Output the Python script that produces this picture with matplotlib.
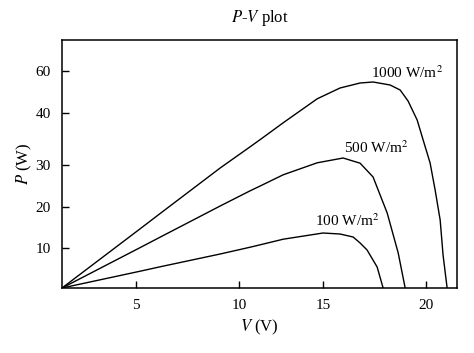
import matplotlib
matplotlib.use("Agg")
import matplotlib.pyplot as plt

plt.rcParams["font.family"] = ["Liberation Serif", "DejaVu Serif"]
plt.rcParams["mathtext.fontset"] = "stix"

# ---------- data (in plot units) ----------
v_1000 = [1.17, 5.21, 6.24, 9.35, 10.90, 11.42, 12.61, 14.37, 15.55, 16.59, 17.26, 18.14,
          18.66, 19.07, 19.54, 19.85, 20.21, 20.47, 20.73, 20.88, 21.09]
p_1000 = [0.0, 14.8, 18.6, 30.0, 35.3, 37.1, 41.3, 47.3, 50.0, 51.25, 51.5, 50.75,
          49.5, 46.75, 42.0, 37.0, 31.25, 24.5, 17.0, 8.25, 0.0]

v_500 = [1.17, 5.21, 6.24, 9.35, 10.90, 11.42, 12.61, 14.37, 15.71, 16.59, 17.26, 17.99, 18.56, 18.92]
p_500 = [0.0, 10.1, 12.7, 20.5, 24.3, 25.5, 28.3, 31.3, 32.5, 31.2, 27.75, 18.75, 8.75, 0.0]

v_100 = [1.17, 5.21, 6.24, 9.35, 10.90, 11.42, 12.61, 14.67, 15.55, 16.23, 16.59, 16.95, 17.47, 17.78]
p_100 = [0.0, 4.2, 5.3, 8.5, 10.2, 10.8, 12.2, 13.75, 13.5, 12.75, 11.25, 9.5, 5.25, 0.0]

labels = ["1000 W/m$^2$", "500 W/m$^2$", "100 W/m$^2$"]
label_pos = [(19.0, 53.8), (17.4, 35.0), (15.9, 16.8)]

x_tick_pos = [5.0, 10.33, 14.67, 20.0]
x_tick_labels = ["5", "10", "15", "20"]
y_tick_pos = [10, 20.25, 30.75, 43.75, 54.25]
y_tick_labels = ["10", "20", "30", "40", "60"]

# ---------- figure ----------
fig = plt.figure(figsize=(4.74, 3.53), dpi=100)
ax = fig.add_axes([0.1308, 0.1841, 0.8333, 0.7026])

for v, p in [(v_1000, p_1000), (v_500, p_500), (v_100, p_100)]:
    ax.plot(v, p, color="black", linewidth=1.0, solid_joinstyle="round")

for txt, (x, y) in zip(labels, label_pos):
    ax.text(x, y, txt, fontsize=11, ha="center", va="center")

ax.set_xlim(1.17, 21.6)
ax.set_ylim(0, 62)
ax.set_xticks(x_tick_pos)
ax.set_xticklabels(x_tick_labels)
ax.set_yticks(y_tick_pos)
ax.set_yticklabels(y_tick_labels)
ax.tick_params(direction="in", length=5, width=1, labelsize=11, pad=8)

for s in ax.spines.values():
    s.set_linewidth(1.1)

ax.set_xlabel("$V$ (V)", fontsize=12, labelpad=4)
ax.set_ylabel("$P$ (W)", fontsize=12, labelpad=1)
ax.set_title("$P$-$V$ plot", fontsize=12, pad=13)

fig.savefig("out.png", dpi=100)
